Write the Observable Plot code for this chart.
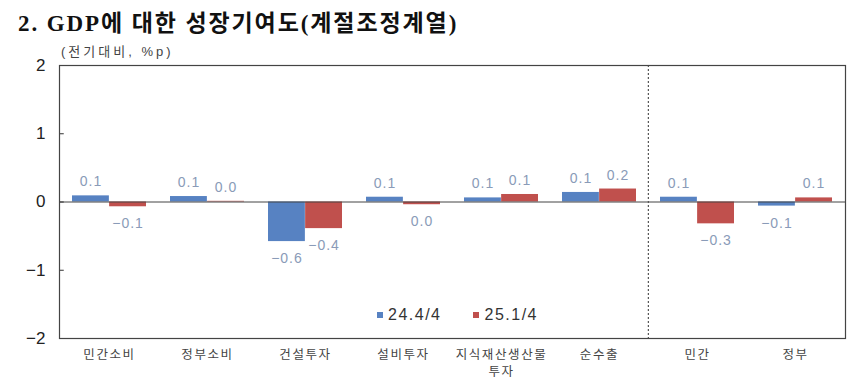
<!DOCTYPE html>
<html><head><meta charset="utf-8">
<script src="https://cdn.jsdelivr.net/npm/d3@7"></script>
<script src="https://cdn.jsdelivr.net/npm/@observablehq/plot@0.6"></script>
<style>
body{margin:0;background:#fff;}
#wrap{position:relative;width:860px;height:379px;overflow:hidden;background:#fff}
#chart{position:absolute;left:0;top:0}
#title{position:absolute;left:18px;top:4px;font:bold 23px "Liberation Serif","Noto Sans CJK KR",serif;letter-spacing:1.9px;color:#111;white-space:nowrap}
#sub{position:absolute;left:61px;top:41px;font:13px "Liberation Sans","Noto Sans CJK KR",sans-serif;letter-spacing:3px;color:#444;white-space:nowrap}
#legend{position:absolute;left:377px;top:305px;height:20px;display:flex;align-items:center;font:16px "Liberation Sans",sans-serif;color:#333;letter-spacing:1.5px}
#legend .sw{display:inline-block;width:6px;height:6px;margin-right:5px}
#legend .item{display:flex;align-items:center;margin-right:32px}
#chart svg .catlab{letter-spacing:1.6px}
#chart svg .vallab{letter-spacing:1px}
</style></head>
<body>
<div id="wrap">
  <div id="chart"></div>
  <div id="title">2. GDP에 대한 성장기여도(계절조정계열)</div>
  <div id="sub">(전기대비, %p)</div>
  <div id="legend"></div>
</div>
<script>
const categories = ["민간소비","정부소비","건설투자","설비투자","지식재산생산물\n투자","순수출","민간","정부"];
const series = ["24.4/4","25.1/4"];
const q4_2024 = [0.09, 0.08, -0.58, 0.07, 0.06, 0.14, 0.07, -0.06];
const q1_2025 = [-0.07, 0.01, -0.39, -0.04, 0.11, 0.19, -0.32, 0.06];
const yTicks = [-2, -1, 0, 1, 2];
const colors = ["#5782c2", "#c0504d"];
const dividerBefore = ["민간"];

const W = 860, H = 379, mL = 59, mR = 15, mT = 65, mB = 41;
const bw = (W - mL - mR) / categories.length;
const gap = 12;
const half = bw / 2;
const barOff = (gap + half) / 2 - half; // offset of first bar center from band center

const rows = [];
categories.forEach((c, i) => {
  rows.push({cat: c, s: series[0], v: q4_2024[i], k: 0});
  rows.push({cat: c, s: series[1], v: q1_2025[i], k: 1});
});
const fmt = d3.format(".1f");

const labelMark = (k, pos) => Plot.text(rows.filter(d => d.k === k && (pos ? d.v >= 0 : d.v < 0)), {
  x: "cat", y: "v", text: d => fmt(d.v),
  dx: k === 0 ? barOff : -barOff,
  dy: pos ? -14 : 17,
  fill: "#8a9bb8", fontSize: 14, lineAnchor: "middle", className: "vallab"
});

const chart = Plot.plot({
  width: W, height: H,
  marginLeft: mL, marginRight: mR, marginTop: mT, marginBottom: mB,
  style: {fontFamily: '"Liberation Sans","Noto Sans CJK KR",sans-serif', background: "transparent"},
  x: {domain: categories, padding: 0, label: null, axis: null},
  y: {domain: [-2, 2], label: null},
  marks: [
    Plot.barY(rows.filter(d => d.k === 0), {x: "cat", y: "v", fill: colors[0], insetLeft: gap, insetRight: half}),
    Plot.barY(rows.filter(d => d.k === 1), {x: "cat", y: "v", fill: colors[1], insetLeft: half, insetRight: gap}),
    Plot.ruleY([0], {stroke: "#444", strokeWidth: 1}),
    Plot.ruleX(dividerBefore, {x: d => d, dx: -half, stroke: "#555", strokeDasharray: "2,2", strokeWidth: 1.2}),
    labelMark(0, true), labelMark(0, false), labelMark(1, true), labelMark(1, false),
    Plot.tickY(yTicks, {x: () => categories[0], y: d => d, insetRight: bw - 4, stroke: "#333"}),
    Plot.frame({stroke: "#444", strokeWidth: 1.2}),
    Plot.axisY({ticks: yTicks, tickSize: 0, tickPadding: 14, fontSize: 17, fill: "#222", tickFormat: d => d3.format("d")(d)}),
    Plot.text(categories, {x: d => d, frameAnchor: "bottom", lineAnchor: "top", dy: 8, fontSize: 12.5, fill: "#444", lineHeight: 1.4, className: "catlab"})
  ]
});
// fallback: apply letter spacing directly
chart.querySelectorAll(".catlab text").forEach(n => n.setAttribute("letter-spacing", "1.6"));
chart.querySelectorAll(".vallab text").forEach(n => n.setAttribute("letter-spacing", "1"));
document.getElementById("chart").appendChild(chart);

const lg = document.getElementById("legend");
series.forEach((s, i) => {
  const item = document.createElement("span");
  item.className = "item";
  item.innerHTML = `<span class="sw" style="background:${colors[i]}"></span><span>${s}</span>`;
  lg.appendChild(item);
});
</script>
</body></html>
